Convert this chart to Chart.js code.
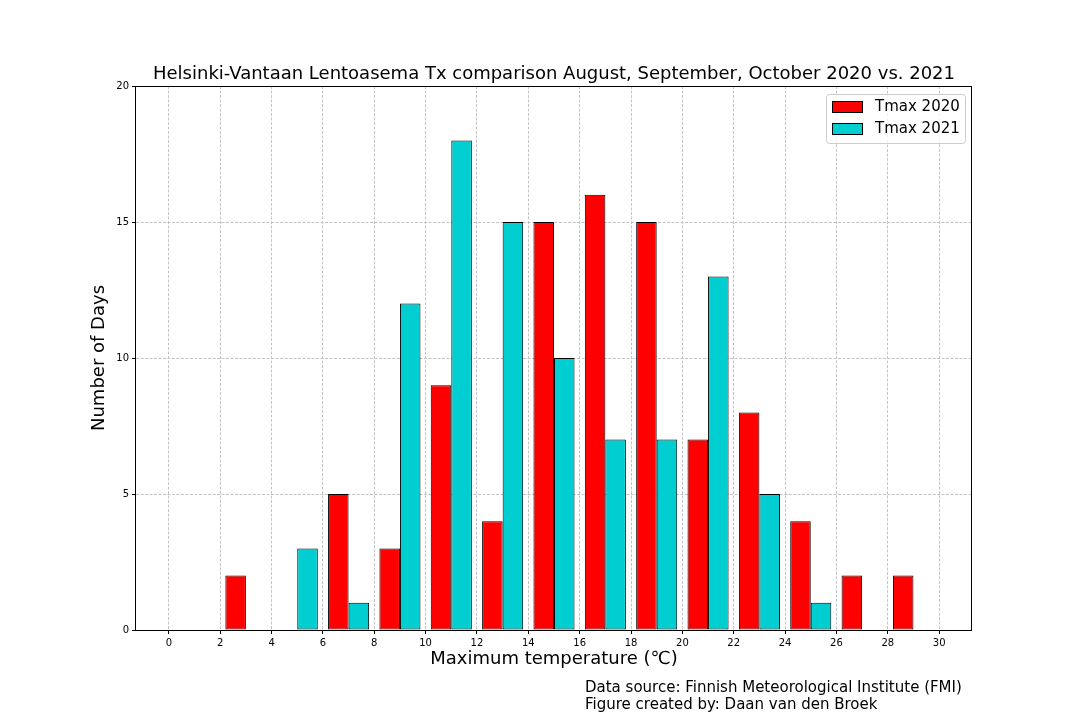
<!DOCTYPE html>
<html>
<head>
<meta charset="utf-8">
<script src="https://cdn.jsdelivr.net/npm/chart.js@4.4.0/dist/chart.umd.min.js"></script>
<style>
  html, body { margin: 0; padding: 0; background: #fff; }
  #chart { display: block; }
</style>
</head>
<body>
<canvas id="chart" width="1080" height="720"></canvas>
<script>
// histogram bins of 2 degrees, values are bin centres
const binCenters = [1, 3, 5, 7, 9, 11, 13, 15, 17, 19, 21, 23, 25, 27, 29];
const tmax2020 = [0, 2, 0, 5, 3, 9, 4, 15, 16, 15, 7, 8, 4, 2, 2];
const tmax2021 = [0, 0, 3, 1, 12, 18, 15, 10, 7, 7, 13, 5, 1, 0, 0];
const seriesLabels = ["Tmax 2020", "Tmax 2021"];

const chartTitle =
  "Helsinki-Vantaan Lentoasema Tx comparison August, September, October 2020 vs. 2021";
const xTitle = "Maximum temperature (\u2103)";
const yTitle = "Number of Days";
const footerLines = [
  "Data source: Finnish Meteorological Institute (FMI)",
  "Figure created by: Daan van den Broek",
];

const FONT = "'DejaVu Sans', 'Liberation Sans', sans-serif";
Chart.defaults.font.family = FONT;
Chart.defaults.color = "#000";

const toPoints = (values) => values.map((v, i) => ({ x: binCenters[i], y: v }));

// black frame round the plot, on top of the bars
const framePlugin = {
  id: "frame",
  afterDatasetsDraw(chart) {
    const { ctx, chartArea } = chart;
    ctx.save();
    ctx.strokeStyle = "#000";
    ctx.lineWidth = 1;
    ctx.strokeRect(
      chartArea.left - 0.5,
      chartArea.top + 0.5,
      chartArea.right - chartArea.left,
      chartArea.bottom - chartArea.top
    );
    ctx.restore();
  },
};

const titleFooterPlugin = {
  id: "titleFooter",
  afterDraw(chart) {
    const { ctx, chartArea } = chart;
    ctx.save();
    ctx.fillStyle = "#000";
    ctx.textBaseline = "middle";
    ctx.textAlign = "center";
    ctx.font = "18px " + FONT;
    ctx.fillText(chartTitle, (chartArea.left + chartArea.right) / 2, chartArea.top - 12);
    ctx.textAlign = "left";
    ctx.font = "15px " + FONT;
    footerLines.forEach((line, i) => ctx.fillText(line, 585, 688 + i * 17));
    ctx.restore();
  },
};

// matplotlib style legend box in the upper right corner
const boxLegendPlugin = {
  id: "boxLegend",
  afterDraw(chart) {
    const { ctx, chartArea } = chart;
    const w = 139;
    const h = 49;
    const x = chartArea.right - 7 - w;
    const y = chartArea.top + 8;
    ctx.save();
    ctx.fillStyle = "rgba(255,255,255,0.8)";
    ctx.strokeStyle = "#cccccc";
    ctx.lineWidth = 1;
    ctx.beginPath();
    ctx.roundRect(x + 0.5, y + 0.5, w, h, 3);
    ctx.fill();
    ctx.stroke();
    ctx.font = "15px " + FONT;
    ctx.textBaseline = "middle";
    chart.data.datasets.forEach((ds, i) => {
      const cy = y + 13 + i * 22;
      ctx.fillStyle = ds.backgroundColor;
      ctx.fillRect(x + 6, cy - 6, 30, 11);
      ctx.strokeStyle = "#000";
      ctx.strokeRect(x + 6.5, cy - 5.5, 30, 11);
      ctx.fillStyle = "#000";
      ctx.fillText(ds.label, x + 49, cy);
    });
    ctx.restore();
  },
};

const gridStyle = {
  color: "#c4c4c4",
  lineWidth: 1,
  drawTicks: true,
  tickLength: 4,
  tickColor: "#000",
  tickBorderDash: [],
  offset: false,
};

new Chart(document.getElementById("chart").getContext("2d"), {
  type: "bar",
  data: {
    datasets: [
      {
        label: seriesLabels[0],
        data: toPoints(tmax2020),
        backgroundColor: "#ff0000",
        borderColor: "#000",
        borderWidth: 1,
        borderSkipped: false,
      },
      {
        label: seriesLabels[1],
        data: toPoints(tmax2021),
        backgroundColor: "#00ced1",
        borderColor: "#000",
        borderWidth: 1,
        borderSkipped: false,
      },
    ],
  },
  options: {
    responsive: false,
    animation: false,
    devicePixelRatio: 1,
    categoryPercentage: 0.8,
    barPercentage: 1.0,
    layout: { padding: { top: 86, right: 108, bottom: 0, left: 0 } },
    plugins: {
      legend: { display: false },
      tooltip: { enabled: false },
      title: { display: false },
    },
    scales: {
      x: {
        type: "linear",
        min: -1.28,
        max: 31.28,
        offset: false,
        grid: gridStyle,
        border: { display: false, dash: [3, 1.5] },
        ticks: {
          stepSize: 2,
          includeBounds: false,
          padding: 3,
          maxRotation: 0,
          autoSkip: false,
          font: { size: 10 },
          color: "#000",
        },
        title: {
          display: true,
          text: xTitle,
          font: { size: 18 },
          color: "#000",
          padding: { top: 0, bottom: 50 },
        },
        afterFit: (scale) => {
          scale.height = 90;
        },
      },
      y: {
        min: 0,
        max: 20,
        grid: gridStyle,
        border: { display: false, dash: [3, 1.5] },
        ticks: {
          stepSize: 5,
          padding: 3,
          font: { size: 10 },
          color: "#000",
        },
        title: {
          display: true,
          text: yTitle,
          font: { size: 18 },
          color: "#000",
          padding: { top: 89, bottom: 0 },
        },
        afterFit: (scale) => {
          scale.width = 136;
        },
      },
    },
  },
  plugins: [framePlugin, titleFooterPlugin, boxLegendPlugin],
});
</script>
</body>
</html>
